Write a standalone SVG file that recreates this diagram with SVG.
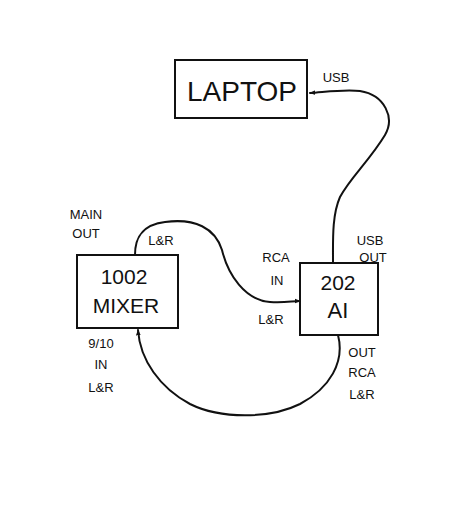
<svg xmlns="http://www.w3.org/2000/svg" width="474" height="525" viewBox="0 0 474 525">
<style>
.box{fill:none;stroke:#111;stroke-width:2}
.wire{fill:none;stroke:#111;stroke-width:2;stroke-linecap:round}
.big{font-family:"Liberation Sans",Arial,sans-serif;fill:#111;text-anchor:middle}
.lbl{font-family:"Liberation Sans",Arial,sans-serif;font-size:13px;fill:#111;text-anchor:middle}
</style>
<defs>
<marker id="ah" viewBox="0 0 10 10" refX="9" refY="5" markerWidth="6" markerHeight="6" orient="auto-start-reverse" markerUnits="userSpaceOnUse">
<path d="M0,1 L10,5 L0,9 Z" fill="#111"/>
</marker>
</defs>
<rect width="474" height="525" fill="#fff"/>
<g id="laptop">
<rect class="box" x="175" y="60" width="132" height="58"/>
<text class="big" x="242" y="101" font-size="28">LAPTOP</text>
</g>
<g id="mixer">
<rect class="box" x="77" y="255" width="101" height="73"/>
<text class="big" x="124" y="284" font-size="21">1002</text>
<text class="big" x="126" y="313" font-size="21">MIXER</text>
</g>
<g id="ai202">
<rect class="box" x="300" y="263" width="78" height="72"/>
<text class="big" x="338" y="290" font-size="21">202</text>
<text class="big" x="338" y="318" font-size="22">AI</text>
</g>
<g id="connectors">
<path class="wire" d="M333,262 C333,240 332,215 340,197 C350,178 370,160 385,135 C395,118 385,95 360,91 C345,89 325,92 310,93" marker-end="url(#ah)"/>
<path class="wire" d="M135,255 C135,240 140,225 165,222 C195,218 215,228 222,250 C228,275 245,300 270,302 C285,303 292,301 300,301" marker-end="url(#ah)"/>
<path class="wire" d="M338,335 C345,362 330,388 300,404 C270,419 220,419 190,404 C160,388 140,360 138,330" marker-end="url(#ah)"/>
</g>
<g id="labels">
<text class="lbl" x="336" y="82">USB</text>
<text class="lbl" x="86" y="219">MAIN</text>
<text class="lbl" x="86" y="238">OUT</text>
<text class="lbl" x="161" y="245">L&amp;R</text>
<text class="lbl" x="276" y="262">RCA</text>
<text class="lbl" x="277" y="285">IN</text>
<text class="lbl" x="271" y="324">L&amp;R</text>
<text class="lbl" x="370" y="245">USB</text>
<text class="lbl" x="373" y="262">OUT</text>
<text class="lbl" x="362" y="357">OUT</text>
<text class="lbl" x="362" y="377">RCA</text>
<text class="lbl" x="362" y="399">L&amp;R</text>
<text class="lbl" x="101" y="348">9/10</text>
<text class="lbl" x="101" y="369">IN</text>
<text class="lbl" x="101" y="392">L&amp;R</text>
</g>
</svg>
